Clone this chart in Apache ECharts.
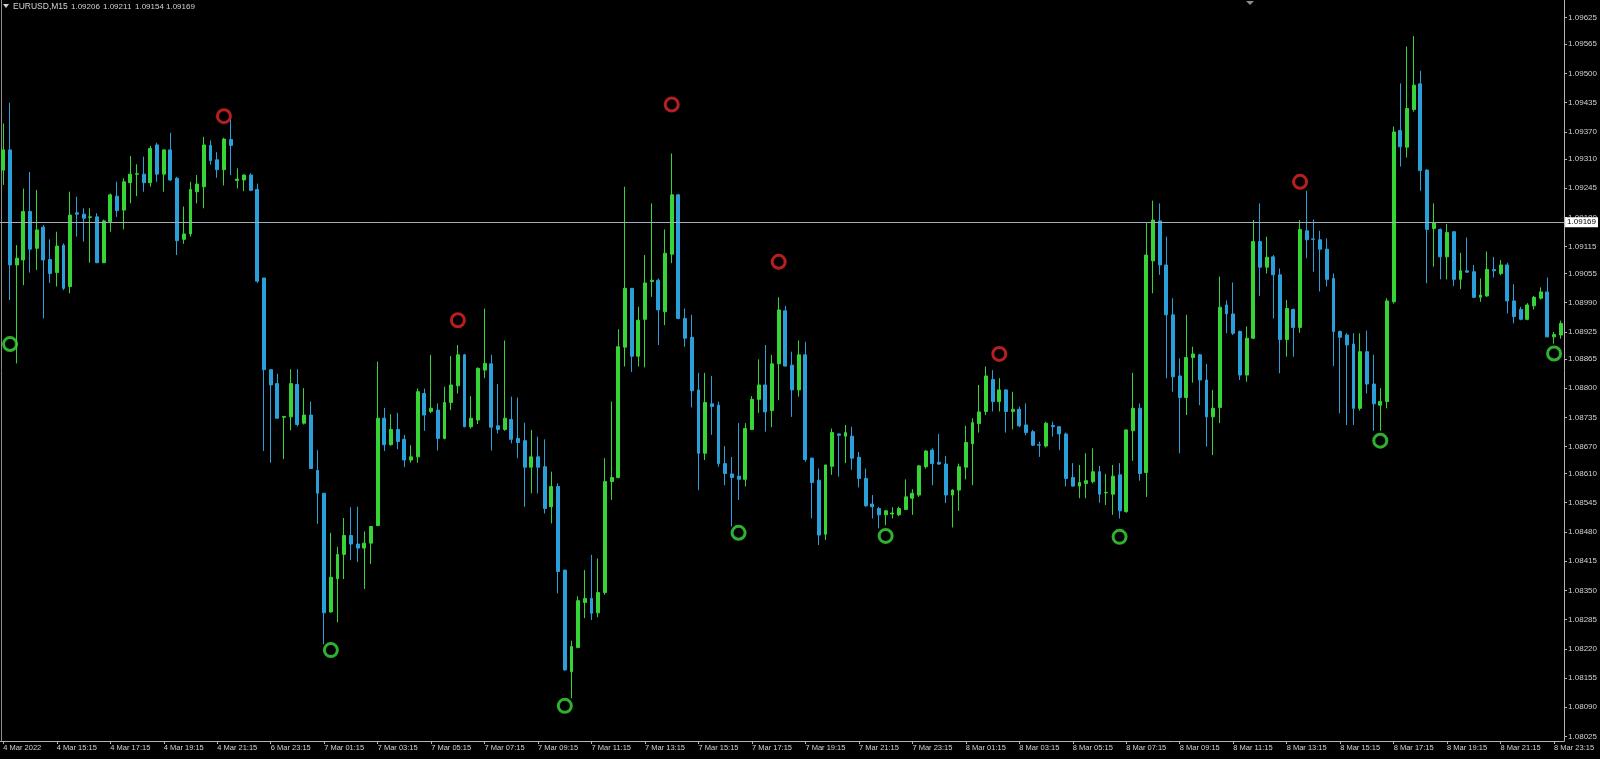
<!DOCTYPE html>
<html><head><meta charset="utf-8">
<script src="https://cdn.jsdelivr.net/npm/echarts@6/dist/echarts.min.js"></script>
<style>html,body{margin:0;padding:0;background:#000;}#c{width:1600px;height:759px;}</style>
</head><body><div id="c"></div>
<script>
const headerSymbol = 'EURUSD,M15';
const headerQuote = ['1.09206', '1.09211', '1.09154', '1.09169'];
const currentPrice = 1.09169;

const timeLabels = ['4 Mar 2022','4 Mar 15:15','4 Mar 17:15','4 Mar 19:15','4 Mar 21:15','6 Mar 23:15','7 Mar 01:15','7 Mar 03:15','7 Mar 05:15','7 Mar 07:15','7 Mar 09:15','7 Mar 11:15','7 Mar 13:15','7 Mar 15:15','7 Mar 17:15','7 Mar 19:15','7 Mar 21:15','7 Mar 23:15','8 Mar 01:15','8 Mar 03:15','8 Mar 05:15','8 Mar 07:15','8 Mar 09:15','8 Mar 11:15','8 Mar 13:15','8 Mar 15:15','8 Mar 17:15','8 Mar 19:15','8 Mar 21:15','8 Mar 23:15'];
const priceLabels = ['1.09625','1.09565','1.09500','1.09435','1.09370','1.09310','1.09245','1.09180','1.09115','1.09055','1.08990','1.08925','1.08865','1.08800','1.08735','1.08670','1.08610','1.08545','1.08480','1.08415','1.08350','1.08285','1.08220','1.08155','1.08090','1.08025'];

const openP = [1.09285,1.09330,1.09074,1.09085,1.09193,1.09111,1.09158,1.09086,1.09057,1.09118,1.09026,1.09190,1.09187,1.09180,1.09181,1.09079,1.09170,1.09227,1.09196,1.09257,1.09276,1.09276,1.09257,1.09341,1.09276,1.09330,1.09267,1.09131,1.09143,1.09237,
1.09248,1.09340,1.09308,1.09286,1.09353,1.09262,1.09263,1.09274,1.09242,1.09045,1.08841,1.08810,1.08735,1.08736,1.08808,1.08722,1.08740,1.08617,1.08566,1.08302,1.08376,1.08430,1.08472,1.08453,1.08444,1.08455,1.08494,1.08733,1.08674,1.08708,
1.08686,1.08640,1.08647,1.08788,1.08748,1.08751,1.08688,1.08768,1.08805,1.08874,1.08714,1.08729,1.08840,1.08854,1.08716,1.08708,1.08730,1.08688,1.08683,1.08624,1.08647,1.08625,1.08536,1.08581,1.08395,1.08169,1.08223,1.08323,1.08332,1.08300,
1.08345,1.08592,1.08601,1.08891,1.09022,1.08871,1.08953,1.09037,1.09040,1.08970,1.09098,1.09230,1.08955,1.08913,1.08796,1.08655,1.08765,1.08762,1.08632,1.08609,1.08604,1.08597,1.08708,1.08775,1.08807,1.08750,1.08854,1.08972,1.08851,1.08796,
1.08874,1.08644,1.08595,1.08475,1.08626,1.08698,1.08693,1.08693,1.08646,1.08599,1.08542,1.08532,1.08518,1.08520,1.08518,1.08530,1.08555,1.08562,1.08625,1.08662,1.08635,1.08631,1.08562,1.08573,1.08624,1.08676,1.08721,1.08748,1.08819,1.08770,
1.08796,1.08748,1.08753,1.08718,1.08703,1.08674,1.08671,1.08717,1.08714,1.08698,1.08601,1.08582,1.08588,1.08592,1.08614,1.08567,1.08564,1.08607,1.08525,1.08705,1.08755,1.08612,1.09083,1.09172,1.09074,1.08963,1.08827,1.08779,1.08868,1.08874,
1.08818,1.08736,1.08757,1.08985,1.08965,1.08926,1.08829,1.08911,1.09126,1.09069,1.09092,1.09052,1.08908,1.08975,1.08935,1.09150,1.09132,1.09130,1.09109,1.09044,1.08926,1.08918,1.08898,1.08755,1.08881,1.08809,1.08762,1.08770,1.08992,1.09373,
1.09336,1.09420,1.09477,1.09285,1.09155,1.09153,1.09092,1.09148,1.09042,1.09061,1.09059,1.09002,1.09005,1.09064,1.09055,1.09074,1.08994,1.08975,1.08953,1.08983,1.09000,1.09014,1.08914,1.08918];
const highP = [1.09389,1.09435,1.09118,1.09244,1.09281,1.09241,1.09163,1.09131,1.09148,1.09122,1.09237,1.09226,1.09200,1.09200,1.09189,1.09175,1.09233,1.09259,1.09267,1.09316,1.09298,1.09315,1.09339,1.09346,1.09331,1.09368,1.09270,1.09204,1.09259,1.09274,
1.09359,1.09351,1.09325,1.09357,1.09399,1.09289,1.09276,1.09278,1.09255,1.09045,1.08841,1.08832,1.08737,1.08842,1.08842,1.08800,1.08770,1.08662,1.08566,1.08478,1.08447,1.08511,1.08535,1.08536,1.08481,1.08492,1.08859,1.08756,1.08742,1.08745,
1.08696,1.08673,1.08799,1.08799,1.08874,1.08766,1.08803,1.08871,1.08896,1.08876,1.08782,1.08846,1.08977,1.08874,1.08809,1.08906,1.08781,1.08779,1.08723,1.08707,1.08692,1.08686,1.08614,1.08588,1.08395,1.08238,1.08337,1.08395,1.08429,1.08421,
1.08644,1.08770,1.08931,1.09248,1.09022,1.08981,1.09096,1.09211,1.09044,1.09153,1.09322,1.09232,1.08977,1.08963,1.08834,1.08834,1.08827,1.08770,1.08671,1.08647,1.08722,1.08722,1.08782,1.08864,1.08896,1.08874,1.09002,1.08983,1.08881,1.08906,
1.08903,1.08646,1.08621,1.08629,1.08710,1.08699,1.08718,1.08714,1.08658,1.08621,1.08562,1.08536,1.08529,1.08535,1.08536,1.08597,1.08575,1.08629,1.08662,1.08666,1.08698,1.08649,1.08575,1.08632,1.08716,1.08733,1.08807,1.08848,1.08840,1.08822,
1.08797,1.08792,1.08759,1.08766,1.08707,1.08681,1.08725,1.08725,1.08716,1.08701,1.08633,1.08629,1.08655,1.08666,1.08627,1.08609,1.08629,1.08633,1.08708,1.08834,1.08766,1.09167,1.09217,1.09211,1.09137,1.09000,1.08866,1.08963,1.08892,1.08876,
1.08854,1.08796,1.09048,1.08995,1.09035,1.08928,1.08937,1.09174,1.09211,1.09137,1.09096,1.09066,1.08996,1.08977,1.09174,1.09239,1.09175,1.09150,1.09133,1.09055,1.08928,1.08922,1.08922,1.08922,1.08928,1.08874,1.08800,1.09000,1.09382,1.09478,
1.09560,1.09583,1.09506,1.09287,1.09211,1.09155,1.09165,1.09148,1.09101,1.09135,1.09074,1.09044,1.09104,1.09092,1.09085,1.09079,1.09031,1.08981,1.08989,1.09005,1.09024,1.09046,1.08925,1.08950];
const lowP = [1.09252,1.08996,1.08855,1.09029,1.09057,1.09063,1.08955,1.09034,1.09026,1.09018,1.09011,1.09137,1.09126,1.09079,1.09078,1.09078,1.09148,1.09181,1.09153,1.09211,1.09227,1.09237,1.09248,1.09259,1.09237,1.09261,1.09096,1.09121,1.09137,1.09211,
1.09200,1.09297,1.09268,1.09251,1.09274,1.09244,1.09238,1.09238,1.09034,1.08660,1.08634,1.08732,1.08642,1.08706,1.08715,1.08719,1.08620,1.08498,1.08230,1.08300,1.08279,1.08375,1.08417,1.08413,1.08353,1.08409,1.08494,1.08660,1.08672,1.08664,
1.08624,1.08634,1.08634,1.08705,1.08744,1.08661,1.08686,1.08751,1.08788,1.08713,1.08710,1.08720,1.08822,1.08661,1.08699,1.08705,1.08677,1.08644,1.08536,1.08566,1.08566,1.08521,1.08499,1.08343,1.08171,1.08110,1.08221,1.08288,1.08284,1.08290,
1.08340,1.08551,1.08599,1.08848,1.08836,1.08848,1.08846,1.09003,1.08896,1.08940,1.09078,1.08953,1.08892,1.08757,1.08573,1.08640,1.08696,1.08625,1.08584,1.08492,1.08551,1.08581,1.08707,1.08745,1.08703,1.08713,1.08773,1.08848,1.08736,1.08781,
1.08636,1.08510,1.08451,1.08462,1.08607,1.08603,1.08633,1.08618,1.08579,1.08536,1.08510,1.08488,1.08495,1.08510,1.08515,1.08529,1.08518,1.08558,1.08621,1.08584,1.08629,1.08544,1.08490,1.08527,1.08597,1.08584,1.08701,1.08740,1.08748,1.08748,
1.08701,1.08708,1.08713,1.08695,1.08671,1.08647,1.08668,1.08692,1.08662,1.08581,1.08581,1.08555,1.08555,1.08588,1.08545,1.08540,1.08518,1.08510,1.08523,1.08638,1.08594,1.08558,1.09011,1.09052,1.08822,1.08792,1.08655,1.08740,1.08812,1.08762,
1.08670,1.08651,1.08722,1.08922,1.08918,1.08818,1.08814,1.08909,1.09005,1.09055,1.08955,1.08833,1.08870,1.08870,1.08923,1.09089,1.09059,1.09015,1.09026,1.08849,1.08744,1.08718,1.08718,1.08750,1.08788,1.08705,1.08705,1.08755,1.08988,1.09293,
1.09313,1.09415,1.09239,1.09033,1.09070,1.09042,1.09042,1.09027,1.09020,1.09057,1.09000,1.08992,1.09003,1.09046,1.09051,1.08966,1.08944,1.08951,1.08951,1.08975,1.08997,1.08913,1.08899,1.08910];
const closeP = [1.09330,1.09074,1.09089,1.09193,1.09109,1.09152,1.09085,1.09055,1.09116,1.09022,1.09185,1.09187,1.09178,1.09181,1.09079,1.09172,1.09230,1.09195,1.09259,1.09276,1.09277,1.09257,1.09333,1.09276,1.09330,1.09263,1.09128,1.09143,1.09242,1.09254,
1.09341,1.09306,1.09286,1.09354,1.09340,1.09265,1.09274,1.09240,1.09038,1.08841,1.08807,1.08733,1.08737,1.08810,1.08719,1.08740,1.08621,1.08566,1.08300,1.08379,1.08430,1.08472,1.08453,1.08444,1.08455,1.08492,1.08733,1.08674,1.08708,1.08681,
1.08640,1.08647,1.08792,1.08740,1.08755,1.08688,1.08768,1.08807,1.08874,1.08714,1.08733,1.08844,1.08855,1.08713,1.08708,1.08733,1.08686,1.08679,1.08624,1.08647,1.08624,1.08532,1.08581,1.08392,1.08173,1.08225,1.08327,1.08332,1.08299,1.08345,
1.08592,1.08601,1.08892,1.09022,1.08871,1.08951,1.09034,1.09040,1.08974,1.09100,1.09230,1.08955,1.08911,1.08794,1.08655,1.08768,1.08759,1.08632,1.08610,1.08601,1.08597,1.08710,1.08775,1.08807,1.08747,1.08854,1.08974,1.08849,1.08796,1.08874,
1.08641,1.08590,1.08473,1.08629,1.08701,1.08695,1.08701,1.08644,1.08599,1.08538,1.08536,1.08518,1.08527,1.08522,1.08532,1.08558,1.08566,1.08627,1.08660,1.08632,1.08631,1.08562,1.08573,1.08625,1.08679,1.08723,1.08747,1.08827,1.08770,1.08796,
1.08748,1.08753,1.08716,1.08701,1.08673,1.08673,1.08722,1.08714,1.08698,1.08599,1.08582,1.08590,1.08594,1.08614,1.08564,1.08568,1.08604,1.08527,1.08707,1.08755,1.08610,1.09096,1.09174,1.09074,1.08963,1.08825,1.08779,1.08868,1.08876,1.08818,
1.08736,1.08755,1.08980,1.08965,1.08922,1.08829,1.08911,1.09126,1.09069,1.09091,1.09052,1.08908,1.08977,1.08935,1.09153,1.09130,1.09131,1.09109,1.09042,1.08926,1.08913,1.08896,1.08755,1.08881,1.08809,1.08765,1.08770,1.08994,1.09370,1.09337,
1.09422,1.09474,1.09284,1.09153,1.09168,1.09092,1.09146,1.09042,1.09061,1.09058,1.09002,1.09007,1.09064,1.09061,1.09074,1.08994,1.08959,1.08953,1.08985,1.09002,1.09014,1.08914,1.08919,1.08944];

const swingHighs = [[33,1.09405],[68,1.08951],[100,1.09431],[116,1.09081],[149,1.08876],[194,1.09259]];
const swingLows = [[1,1.08898],[49,1.08217],[84,1.08093],[110,1.08478],[132,1.08471],[167,1.08469],[206,1.08683],[232,1.08877]];

// bar times (M15), weekend gap from Fri 22:00 to Sun 22:00
const categories = [];
const pad = n => (n < 10 ? '0' : '') + n;
let t = Date.UTC(2022, 2, 4, 13, 15);
for (let i = 0; i < openP.length; i++) {
  if (t >= Date.UTC(2022, 2, 4, 22, 0) && t < Date.UTC(2022, 2, 6, 22, 0)) t = Date.UTC(2022, 2, 6, 22, 0);
  const d = new Date(t);
  categories.push(d.getUTCDate() + ' Mar ' + pad(d.getUTCHours()) + ':' + pad(d.getUTCMinutes()));
  t += 15 * 60000;
}
const labelFor = {};
timeLabels.forEach((s, k) => { if (categories[k * 8] !== undefined) labelFor[categories[k * 8]] = s; });

const candles = openP.map((o, i) => [o, closeP[i], lowP[i], highP[i]]);

const BULL = '#36d436', BEAR = '#2a9fd9', AXIS = '#b4b4b4', TXT = '#d2d2d2';
const FONT = 'Liberation Sans, Arial, sans-serif';

const chart = echarts.init(document.getElementById('c'), null, {renderer: 'canvas'});
chart.setOption({
  animation: false,
  backgroundColor: '#000',
  grid: {left: -1, right: 34, top: 0, bottom: 18},
  xAxis: {
    type: 'category', data: categories, boundaryGap: true,
    axisLine: {show: true, lineStyle: {color: AXIS, width: 1}},
    axisTick: {show: true, alignWithLabel: true, length: 3, interval: (idx) => idx % 8 === 0, lineStyle: {color: AXIS}},
    axisLabel: {show: true, interval: (idx) => idx % 8 === 0, formatter: v => labelFor[v] || '', align: 'left',
      color: TXT, fontSize: 7.5, fontFamily: FONT, margin: 3},
    splitLine: {show: false}
  },
  yAxis: {
    type: 'value', position: 'right', min: 1.080148, max: 1.096635, scale: true,
    splitLine: {show: false},
    axisLine: {show: true, lineStyle: {color: AXIS, width: 1}},
    axisTick: {show: true, length: 3, customValues: priceLabels.map(Number), lineStyle: {color: AXIS}},
    axisLabel: {show: true, customValues: priceLabels.map(Number), formatter: v => v.toFixed(5),
      color: TXT, fontSize: 8, fontFamily: FONT, margin: 4}
  },
  series: [
    {
      type: 'candlestick', data: candles, barWidth: 3.4, clip: false,
      itemStyle: {color: BULL, color0: BEAR, borderColor: BULL, borderColor0: BEAR, borderWidth: 1}
    },
    {
      type: 'scatter', data: swingHighs, symbol: 'circle', symbolSize: 13, z: 5,
      itemStyle: {color: 'rgba(0,0,0,0)', borderColor: '#e3262a', borderWidth: 3},
      markLine: {
        silent: true, symbol: ['none', 'none'], animation: false, precision: 5,
        data: [{yAxis: currentPrice}],
        lineStyle: {color: '#a3adb6', width: 1, type: 'solid'},
        label: {show: true, position: 'end', distance: 1, formatter: () => currentPrice.toFixed(5),
          backgroundColor: '#ffffff', color: '#000', fontSize: 8, fontFamily: FONT, padding: [1, 2, 1, 2]}
      }
    },
    {
      type: 'scatter', data: swingLows, symbol: 'circle', symbolSize: 13, z: 5,
      itemStyle: {color: 'rgba(0,0,0,0)', borderColor: '#3cdc3c', borderWidth: 3}
    }
  ],
  graphic: [
    {type: 'line', shape: {x1: 1.5, y1: 0, x2: 1.5, y2: 741}, style: {stroke: '#8c8c8c', lineWidth: 1}, silent: true},
    {type: 'polygon', shape: {points: [[3, 4], [9, 4], [6, 8]]}, style: {fill: TXT}, silent: true},
    {type: 'text', x: 13, y: 7, style: {text: headerSymbol, fill: TXT, font: '8.5px ' + FONT, verticalAlign: 'middle'}, silent: true},
    {type: 'text', x: 71, y: 7, style: {text: headerQuote[0], fill: TXT, font: '8px ' + FONT, verticalAlign: 'middle'}, silent: true},
    {type: 'text', x: 103, y: 7, style: {text: headerQuote[1], fill: TXT, font: '8px ' + FONT, verticalAlign: 'middle'}, silent: true},
    {type: 'text', x: 135, y: 7, style: {text: headerQuote[2], fill: TXT, font: '8px ' + FONT, verticalAlign: 'middle'}, silent: true},
    {type: 'text', x: 166, y: 7, style: {text: headerQuote[3], fill: TXT, font: '8px ' + FONT, verticalAlign: 'middle'}, silent: true},
    {type: 'polygon', shape: {points: [[1246, 1], [1254, 1], [1250, 5]]}, style: {fill: '#8c8c8c'}, silent: true}
  ]
});
</script></body></html>
